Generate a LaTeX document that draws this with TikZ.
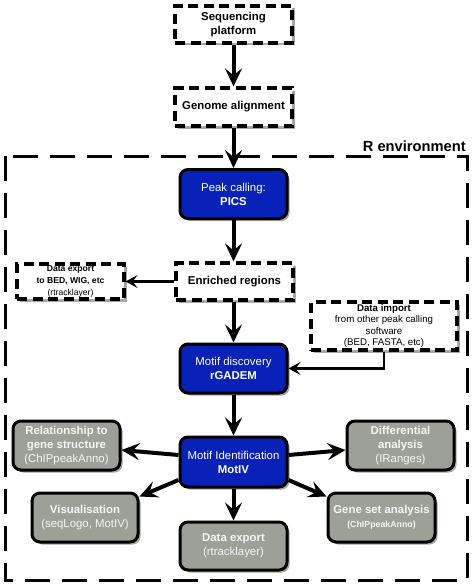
\documentclass[tikz,border=0pt]{standalone}
\usepackage{fontspec}
\setmainfont{Liberation Sans}
\usetikzlibrary{arrows.meta,shadows,calc}
\definecolor{boxblue}{RGB}{8,34,185}
\definecolor{boxgrey}{RGB}{157,160,150}
\definecolor{greytext}{RGB}{245,245,245}
\newcommand{\fmain}{\fontsize{11.4pt}{14pt}\selectfont}
\newcommand{\fsmall}{\fontsize{8.6pt}{11.2pt}\selectfont}
\newcommand{\fsmaller}{\fontsize{8.6pt}{11.2pt}\selectfont}
\newcommand{\fimp}{\fontsize{9.7pt}{11.2pt}\selectfont}
\begin{document}
\begin{tikzpicture}[x=1pt,y=-1pt,
  shadowed/.style={drop shadow={shadow xshift=2.5pt,shadow yshift=-2.5pt,opacity=0.35,fill=black}},
  dashbox/.style={draw=black, line width=3.2pt, dash pattern=on 10pt off 5.5pt, fill=white,
    align=center, inner sep=1pt, shadowed},
  bluebox/.style={draw=black, line width=3pt, rounded corners=8pt, fill=boxblue, text=white,
    align=center, inner sep=1pt, minimum width=107pt, minimum height=49pt, shadowed, font=\fmain},
  greybox/.style={draw=black, line width=3pt, rounded corners=8pt, fill=boxgrey, text=greytext,
    align=center, inner sep=1pt, minimum width=107pt, minimum height=49pt, shadowed, font=\fmain},
  bigarrow/.style={line width=4pt, -{Stealth[length=18pt,width=17pt,inset=7pt]}},
  smallarrow/.style={line width=2.5pt, -{Stealth[length=12pt,width=13pt,inset=5pt]}},
  envbox/.style={draw=black, line width=3pt, dash pattern=on 25pt off 12pt}
]
\useasboundingbox (0,0) rectangle (474,586);

% R environment frame
\draw[envbox] (5,156) rectangle (467,580);
\node[anchor=south east, inner sep=0pt, font=\fontsize{14.7pt}{16pt}\selectfont\bfseries] (renv) at (466,152) {R environment};

% dashed boxes
\node[dashbox, minimum width=117pt, minimum height=37pt, font=\fmain\bfseries] (seq) at (233.5,24.5) {Sequencing\\platform};
\node[dashbox, minimum width=117pt, minimum height=38pt, font=\fmain\bfseries] (gen) at (233.5,107) {Genome alignment};
\node[dashbox, minimum width=117pt, minimum height=37pt, font=\fmain\bfseries] (enr) at (234.5,281.5) {Enriched regions};
\node[dashbox, minimum width=107pt, minimum height=35pt] (dexp) at (70.5,281.5)
  {{\fsmall\bfseries Data export}\\{\fsmall\bfseries to BED, WIG, etc}\\{\fsmaller (rtracklayer)}};
\node[dashbox, minimum width=146pt, minimum height=48pt, font=\fimp] (dimp) at (384,326)
  {\textbf{Data import}\\from other peak calling\\software\\(BED, FASTA, etc)};

% blue boxes
\node[bluebox] (peak) at (233.5,194) {Peak calling:\\\textbf{PICS}};
\node[bluebox] (motd) at (233.5,368.5) {Motif discovery\\\textbf{rGADEM}};
\node[bluebox, minimum height=50pt] (moti) at (233.5,462) {Motif Identification\\\textbf{MotIV}};

% grey boxes
\node[greybox] (rel) at (66.5,445.5) {\textbf{Relationship to}\\\textbf{gene structure}\\(ChIPpeakAnno)};
\node[greybox] (diff) at (400.5,445.5) {\textbf{Differential}\\\textbf{analysis}\\(IRanges)};
\node[greybox, minimum width=106pt] (vis) at (85,517.5) {\textbf{Visualisation}\\(seqLogo, MotIV)};
\node[greybox, minimum height=48pt] (dexpb) at (233.5,546) {\textbf{Data export}\\(rtracklayer)};
\node[greybox] (gsa) at (381.5,517.5) {\textbf{Gene set analysis}\\{\fontsize{8.8pt}{11pt}\selectfont\bfseries (ChIPpeakAnno)}};

% connectors
\draw[bigarrow] (seq.south) -- (gen.north);
\draw[bigarrow] (gen.south) -- (peak.north);
\draw[bigarrow] (peak.south) -- (enr.north -| peak.south);
\draw[smallarrow] (enr.west) -- (dexp.east);
\draw[bigarrow] (enr.south -| motd.north) -- (motd.north);
\draw[smallarrow] (dimp.south) |- (motd.east);
\draw[bigarrow] (motd.south) -- (moti.north);
\draw[bigarrow] ([yshift=7pt]moti.west) -- ([yshift=-4.5pt]rel.east);
\draw[bigarrow] ([yshift=7pt]moti.east) -- ([yshift=-4.5pt]diff.east -| diff.west);
\draw[bigarrow] ([yshift=-18pt]moti.west) -- ([yshift=21pt]vis.east);
\draw[bigarrow] ([yshift=-18pt]moti.east) -- ([yshift=21pt]gsa.west);
\draw[bigarrow] (moti.south) -- (dexpb.north);
\end{tikzpicture}
\end{document}
